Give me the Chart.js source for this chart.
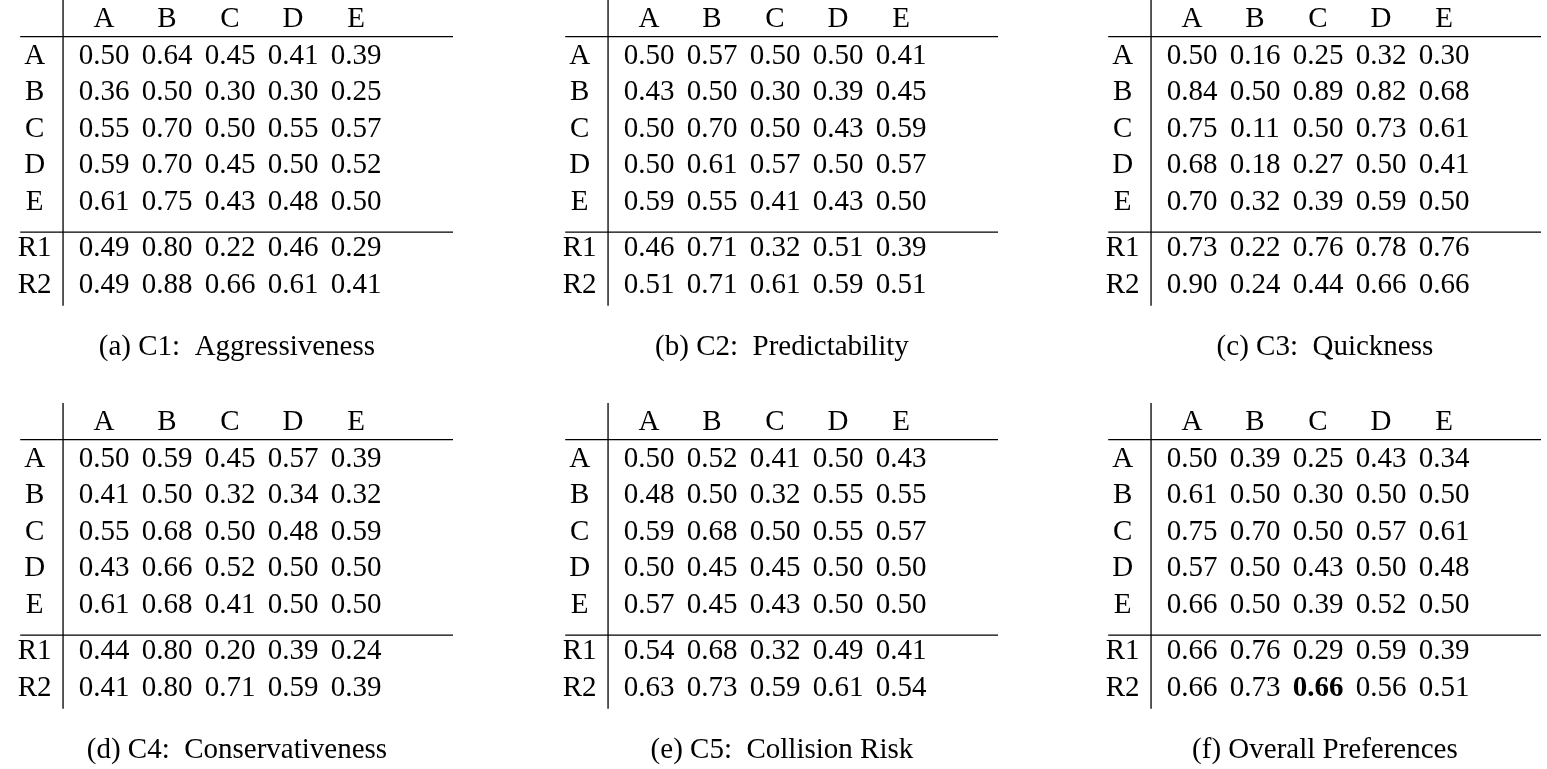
<!DOCTYPE html>
<html><head><meta charset="utf-8">
<script src="https://cdn.jsdelivr.net/npm/chart.js@4"></script>
<style>body{margin:0;background:#fff;width:1547px;height:769px;position:relative;overflow:hidden}canvas{position:absolute}</style>
</head><body>
<script>
const colLabels = ["A","B","C","D","E"];
const rowLabels = ["A","B","C","D","E","R1","R2"];
const captions = ["(a) C1:  Aggressiveness","(b) C2:  Predictability","(c) C3:  Quickness","(d) C4:  Conservativeness","(e) C5:  Collision Risk","(f) Overall Preferences"];
const c1 = [[0.50,0.64,0.45,0.41,0.39],[0.36,0.50,0.30,0.30,0.25],[0.55,0.70,0.50,0.55,0.57],[0.59,0.70,0.45,0.50,0.52],[0.61,0.75,0.43,0.48,0.50],[0.49,0.80,0.22,0.46,0.29],[0.49,0.88,0.66,0.61,0.41]];
const c2 = [[0.50,0.57,0.50,0.50,0.41],[0.43,0.50,0.30,0.39,0.45],[0.50,0.70,0.50,0.43,0.59],[0.50,0.61,0.57,0.50,0.57],[0.59,0.55,0.41,0.43,0.50],[0.46,0.71,0.32,0.51,0.39],[0.51,0.71,0.61,0.59,0.51]];
const c3 = [[0.50,0.16,0.25,0.32,0.30],[0.84,0.50,0.89,0.82,0.68],[0.75,0.11,0.50,0.73,0.61],[0.68,0.18,0.27,0.50,0.41],[0.70,0.32,0.39,0.59,0.50],[0.73,0.22,0.76,0.78,0.76],[0.90,0.24,0.44,0.66,0.66]];
const c4 = [[0.50,0.59,0.45,0.57,0.39],[0.41,0.50,0.32,0.34,0.32],[0.55,0.68,0.50,0.48,0.59],[0.43,0.66,0.52,0.50,0.50],[0.61,0.68,0.41,0.50,0.50],[0.44,0.80,0.20,0.39,0.24],[0.41,0.80,0.71,0.59,0.39]];
const c5 = [[0.50,0.52,0.41,0.50,0.43],[0.48,0.50,0.32,0.55,0.55],[0.59,0.68,0.50,0.55,0.57],[0.50,0.45,0.45,0.50,0.50],[0.57,0.45,0.43,0.50,0.50],[0.54,0.68,0.32,0.49,0.41],[0.63,0.73,0.59,0.61,0.54]];
const overall = [[0.50,0.39,0.25,0.43,0.34],[0.61,0.50,0.30,0.50,0.50],[0.75,0.70,0.50,0.57,0.61],[0.57,0.50,0.43,0.50,0.48],[0.66,0.50,0.39,0.52,0.50],[0.66,0.76,0.29,0.59,0.39],[0.66,0.73,0.66,0.56,0.51]];
const boldCell = [5, 6, 2]; // table index, row, col
const tables = [c1,c2,c3,c4,c5,overall];

const lefts=[0,545,1088], tops=[0,403];
const W=470,H=366, PX=63, PY=36.6;
const FONT='"Liberation Serif","DejaVu Serif",serif';
const FS='29px ';
const rowY = r => r<5 ? r : r+0.27;

const tablePlugin = {
  id:'tbl',
  afterDraw(chart){
    const ctx=chart.ctx, xs=chart.scales.x, ys=chart.scales.y;
    const ti=chart.options.plugins.tbl.ti;
    const X=v=>xs.getPixelForValue(v), Y=v=>ys.getPixelForValue(v);
    ctx.save();
    ctx.strokeStyle='#000'; ctx.lineWidth=1.3;
    ctx.beginPath();
    ctx.moveTo(X(-1.33),Y(-0.5)); ctx.lineTo(X(5.54),Y(-0.5));
    ctx.moveTo(X(-1.33),Y(4.84)); ctx.lineTo(X(5.54),Y(4.84));
    ctx.moveTo(X(-0.65),Y(-1.5)); ctx.lineTo(X(-0.65),Y(6.85));
    ctx.stroke();
    ctx.fillStyle='#000'; ctx.textAlign='center'; ctx.textBaseline='middle';
    ctx.font=FS+FONT;
    colLabels.forEach((c,i)=>ctx.fillText(c,X(i),Y(-1)+1));
    rowLabels.forEach((r,j)=>ctx.fillText(r,X(-1.1),Y(rowY(j))+1));
    const meta=chart.getDatasetMeta(0);
    chart.data.datasets[0].data.forEach((d,k)=>{
      const p=meta.data[k];
      const b = ti===boldCell[0] && d.r===boldCell[1] && d.c===boldCell[2];
      ctx.font=(b?'bold ':'')+FS+FONT;
      ctx.fillText(d.v.toFixed(2),p.x,p.y+1);
    });
    ctx.font=FS+FONT;
    ctx.fillText(captions[ti],X(2.11),Y(7.98));
    ctx.restore();
  }
};

tables.forEach((t,ti)=>{
  const cv=document.createElement('canvas');
  cv.width=W; cv.height=H;
  cv.style.left=lefts[ti%3]+'px'; cv.style.top=tops[Math.floor(ti/3)]+'px';
  document.body.appendChild(cv);
  const pts=[];
  t.forEach((row,r)=>row.forEach((v,c)=>pts.push({x:c,y:rowY(r),v,r,c})));
  const xmin=-104/PX, ymin=-55/PY;
  new Chart(cv,{
    type:'scatter',
    data:{datasets:[{data:pts,pointRadius:0,pointHoverRadius:0}]},
    options:{
      responsive:false, animation:false, events:[],
      layout:{padding:0},
      plugins:{legend:{display:false},tooltip:{enabled:false},tbl:{ti}},
      scales:{
        x:{type:'linear',display:false,min:xmin,max:xmin+W/PX},
        y:{type:'linear',display:false,reverse:true,min:ymin,max:ymin+H/PY}
      }
    },
    plugins:[tablePlugin]
  });
});
</script>
</body></html>
